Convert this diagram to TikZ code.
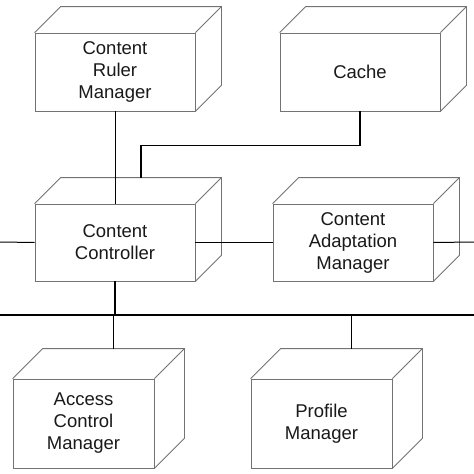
\documentclass[tikz,border=0pt]{standalone}
\usepackage{fontspec}
\setmainfont{Liberation Sans}
\begin{document}
\begin{tikzpicture}[x=1pt,y=-1pt,
  boxline/.style={draw=black!55, line width=0.8pt},
  nodebox/.style={boxline, fill=white, inner sep=0pt, align=center,
    font=\fontsize{18.5}{22}\selectfont, text=black!90},
  topbox/.style={nodebox, minimum width=160pt, minimum height=78pt},
  lowbox/.style={nodebox, minimum width=141pt, minimum height=89pt},
  conn/.style={draw=black, line width=1.3pt},
  thinconn/.style={draw=black, line width=1pt}]
\useasboundingbox (0,0) rectangle (474,474);
\fill[white] (0,0) rectangle (474,474);
\newcommand\boxdepth[2]{%
  \draw[boxline] (#1.north west) -- ++(#2,-#2)
     -- ([shift={(#2,-#2)}]#1.north east)
     -- ([shift={(#2,-#2)}]#1.south east) -- (#1.south east);
  \draw[boxline] (#1.north east) -- ++(#2,-#2);}
% nodes
\node[topbox] (crm) at (115,72) {Content\\Ruler\\Manager};
\node[topbox] (cache) at (360,72) {Cache};
\node[topbox, minimum height=77pt] (cc) at (115,242.5) {Content\\Controller};
\node[topbox, minimum height=77pt] (cam) at (353,242.5) {Content\\Adaptation\\Manager};
\node[lowbox] (acm) at (83.5,423.5) {Access\\Control\\Manager};
\node[lowbox] (pm) at (321.5,423.5) {Profile\\Manager};
\boxdepth{crm}{26}
\boxdepth{cache}{26}
\boxdepth{cc}{26}
\boxdepth{cam}{26}
\boxdepth{acm}{30}
\boxdepth{pm}{30}
% coordinates
\coordinate (ccback) at ([shift={(26,-26)}]cc.north);
\coordinate (acmback) at ([shift={(30,-30)}]acm.north);
\coordinate (pmback) at ([shift={(30,-30)}]pm.north);
\coordinate (midL) at (0,242);
\coordinate (midR) at (474,242);
\coordinate (busL) at (0,315);
\coordinate (busR) at (474,315);
% connectors
\draw[thinconn] (crm.south) -- (cc.north);
\draw[conn] (cache.south) -- ++(0,34) -| (ccback);
\draw[thinconn] (midL) -- (cc.west);
\draw[thinconn] (cc.east) -- (cam.west);
\draw[thinconn] (cam.east) -- (midR);
\draw[conn] (busL) -- (busR);
\draw[conn] (cc.south) -- (cc.south |- busL);
\draw[conn] (acmback) -- (acmback |- busL);
\draw[conn] (pmback) -- (pmback |- busL);
\end{tikzpicture}
\end{document}
